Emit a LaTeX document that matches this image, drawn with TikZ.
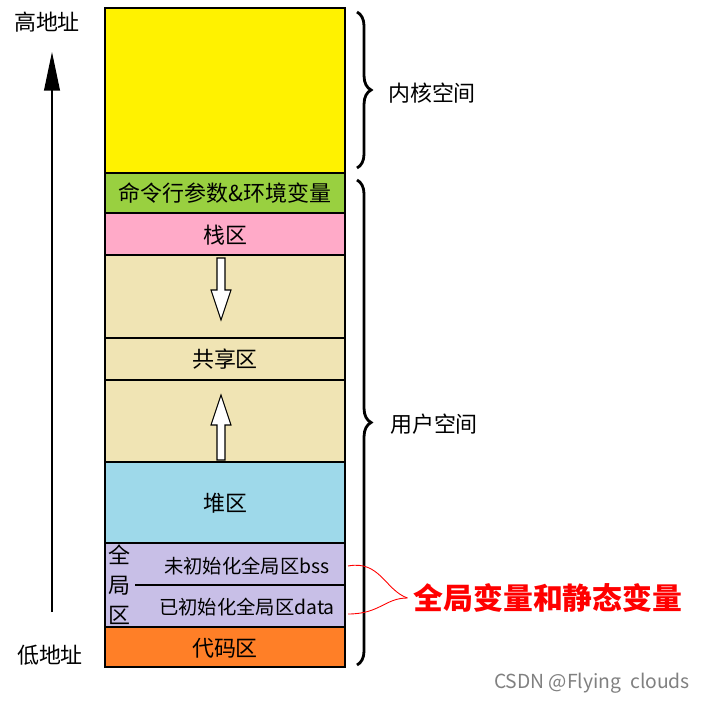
\documentclass[tikz,border=0pt]{standalone}
\usepackage{fontspec}
\setmainfont{Noto Sans CJK SC}
\usetikzlibrary{arrows.meta,decorations.pathreplacing}

\definecolor{kyellow}{HTML}{FFF200}
\definecolor{kgreen}{HTML}{99D040}
\definecolor{kpink}{HTML}{FFAAC8}
\definecolor{kbeige}{HTML}{F0E4B4}
\definecolor{kblue}{HTML}{9ED9EA}
\definecolor{klav}{HTML}{C8BFE7}
\definecolor{korange}{HTML}{FF7F27}

\begin{document}
\begin{tikzpicture}[x=0.02cm,y=-0.02cm,font=\fontsize{12.5}{14}\selectfont]
  \tikzset{seg/.style={draw,line width=0.6pt},
           small/.style={font=\fontsize{11}{13}\selectfont},
           brace/.style={decorate,decoration={brace,amplitude=8pt},line width=1.6pt},
           hollow/.style={draw,line width=0.6pt,fill=white}}
  \useasboundingbox (0,0) rectangle (703,703);

  \path[seg,fill=kyellow] (105,8) rectangle (345,173);
  \path[seg,fill=kgreen] (105,173) rectangle (345,213);
  \path[seg,fill=kpink] (105,213) rectangle (345,255);
  \path[seg,fill=kbeige] (105,255) rectangle (345,338);
  \path[seg,fill=kbeige] (105,338) rectangle (345,380);
  \path[seg,fill=kbeige] (105,380) rectangle (345,462);
  \path[seg,fill=kblue] (105,462) rectangle (345,543);
  \path[seg,fill=klav] (105,543) rectangle (345,627);
  \draw[line width=0.6pt] (135,585) -- (345,585);
  \path[seg,fill=korange] (105,627) rectangle (345,667);

  \node (cmd) at (225,193) {命令行参数\&环境变量};
  \node (stack) at (225,235) {栈区};
  \node (shared) at (225,359) {共享区};
  \node (heap) at (225,503) {堆区};
  \node[align=center,inner sep=0pt,font=\fontsize{12.5}{17}\selectfont] (glob) at (119,585) {全\\局\\区};
  \node[small] (bss) at (247,566) {未初始化全局区bss};
  \node[small] (data) at (247,607) {已初始化全局区data};
  \node (code) at (225,648) {代码区};

  % hollow arrows
  \path[hollow] (217,258) -- (225,258) -- (225,290) -- (231,290) -- (221,320)
    -- (211,290) -- (217,290) -- cycle;
  \path[hollow] (217,460) -- (225,460) -- (225,425) -- (231,425) -- (221,395)
    -- (211,425) -- (217,425) -- cycle;

  % address axis
  \node (high) at (47,22) {高地址};
  \node (low) at (50,655) {低地址};
  \draw[line width=0.8pt,-{Triangle[length=22pt,width=9pt]}] (52,612) -- (52,52);

  % braces
  \draw[brace] (357,12) -- (357,168);
  \draw[brace] (357,180) -- (357,665);
  \node (kernel) at (432,93) {内核空间};
  \node (user) at (434,424) {用户空间};

  % annotation
  \node[text=red,font=\fontsize{17}{20}\selectfont\bfseries] (gv) at (548,598) {全局变量和静态变量};
  \draw[red,line width=0.5pt] (348,566) .. controls (380,560) and (385,590) .. (gv.west);
  \draw[red,line width=0.5pt] (348,614) .. controls (380,614) and (385,598) .. (gv.west);

  \node[text=gray,font=\fontsize{11}{13}\selectfont] (mark) at (592,683) {CSDN @Flying\ \ clouds};
\end{tikzpicture}
\end{document}
